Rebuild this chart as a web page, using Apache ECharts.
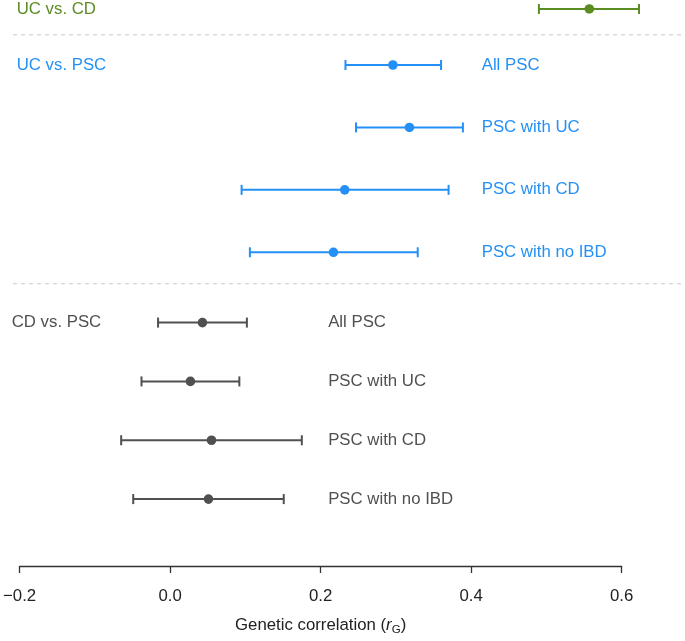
<!DOCTYPE html>
<html>
<head>
<meta charset="utf-8">
<script src="https://cdn.jsdelivr.net/npm/echarts@6/dist/echarts.min.js"></script>
<style>
html,body{margin:0;padding:0;background:#fff;}
#chart{width:685px;height:641px;}
</style>
</head>
<body>
<div id="chart"></div>
<script>
// ---- data ----
const groupNames = ['UC vs. CD', 'UC vs. PSC', 'CD vs. PSC'];
const subLabels = ['All PSC', 'PSC with UC', 'PSC with CD', 'PSC with no IBD'];

const ucCdEst  = [0.557];
const ucCdLow  = [0.490];
const ucCdHigh = [0.623];

const ucPscEst  = [0.296, 0.318, 0.232, 0.217];
const ucPscLow  = [0.233, 0.247, 0.095, 0.106];
const ucPscHigh = [0.360, 0.389, 0.370, 0.329];

const cdPscEst  = [0.043, 0.027, 0.055, 0.051];
const cdPscLow  = [-0.016, -0.038, -0.065, -0.049];
const cdPscHigh = [0.102, 0.092, 0.175, 0.151];

const xTicks = [-0.2, 0.0, 0.2, 0.4, 0.6];

// ---- layout / style ----
const colors = ['#5b8c22', '#2490f5', '#505050'];
const FONT = 'Liberation Sans, Arial, Helvetica, sans-serif';
const FS = 16.8;
const plotH = 568.5;               // y axis span (row units)
const rowStart = [9, 65.3, 324];   // first row of each group
const rowStep = [0, 62.7, 59.1];   // row spacing inside group
const groupLabelX = [16.7, 16.7, 11.7];
const subLabelAt = [null, 0.414, 0.210]; // x value where sub labels start
const dividers = [35, 285];

const groupsData = [
  {est: ucCdEst, low: ucCdLow, high: ucCdHigh, labels: [null]},
  {est: ucPscEst, low: ucPscLow, high: ucPscHigh, labels: subLabels},
  {est: cdPscEst, low: cdPscLow, high: cdPscHigh, labels: subLabels}
];

const chart = echarts.init(document.getElementById('chart'), null, {renderer: 'canvas'});

const series = groupsData.map((g, gi) => {
  const data = g.est.map((e, i) => [g.low[i], e, g.high[i], rowStart[gi] + i * rowStep[gi]]);
  return {
    type: 'custom',
    name: groupNames[gi],
    data: data,
    encode: {x: [0, 1, 2], y: 3},
    clip: false,
    renderItem: function (params, api) {
      const y = api.value(3);
      const lo = api.coord([api.value(0), y]);
      const es = api.coord([api.value(1), y]);
      const hi = api.coord([api.value(2), y]);
      const c = colors[gi];
      const cap = 5;
      const lineStyle = {stroke: c, lineWidth: 2};
      const children = [
        {type: 'line', shape: {x1: lo[0], y1: lo[1], x2: hi[0], y2: hi[1]}, style: lineStyle},
        {type: 'line', shape: {x1: lo[0], y1: lo[1] - cap, x2: lo[0], y2: lo[1] + cap}, style: lineStyle},
        {type: 'line', shape: {x1: hi[0], y1: hi[1] - cap, x2: hi[0], y2: hi[1] + cap}, style: lineStyle},
        {type: 'circle', shape: {cx: es[0], cy: es[1], r: 4.8}, style: {fill: c}}
      ];
      const lab = g.labels[params.dataIndex];
      if (lab && subLabelAt[gi] !== null) {
        const lp = api.coord([subLabelAt[gi], y]);
        children.push({type: 'text', style: {x: lp[0], y: lp[1], text: lab, fill: c,
          font: FS + 'px ' + FONT, align: 'left', verticalAlign: 'middle'}});
      }
      if (params.dataIndex === 0) {
        children.push({type: 'text', style: {x: groupLabelX[gi], y: es[1], text: groupNames[gi], fill: c,
          font: FS + 'px ' + FONT, align: 'left', verticalAlign: 'middle'}});
        if (gi > 0) {
          const dp = api.coord([0, dividers[gi - 1]]);
          children.push({type: 'line', shape: {x1: 13, y1: dp[1], x2: 685, y2: dp[1]},
            style: {stroke: '#c8c8c8', lineWidth: 1, lineDash: [4, 4]}});
        }
      }
      return {type: 'group', children: children};
    }
  };
});

chart.setOption({
  animation: false,
  backgroundColor: '#fff',
  grid: {left: 16, right: 63.3, top: 0, bottom: 641 - plotH},
  xAxis: {
    type: 'value',
    position: 'bottom',
    min: xTicks[0],
    max: xTicks[xTicks.length - 1],
    interval: 0.2,
    splitLine: {show: false},
    axisLine: {show: true, onZero: false, lineStyle: {color: '#333', width: 1.3}},
    axisTick: {show: true, length: 7, lineStyle: {color: '#333', width: 1.3}},
    axisLabel: {
      margin: 22,
      fontSize: FS,
      fontFamily: FONT,
      color: '#222',
      formatter: v => (v < 0 ? '\u2212' : '') + Math.abs(v).toFixed(1)
    },
    name: '{a|Genetic correlation (}{i|r}{s|G}{a|)}',
    nameLocation: 'middle',
    nameGap: 49,
    nameTextStyle: {
      rich: {
        a: {fontSize: FS, fontFamily: FONT, color: '#222', lineHeight: 20},
        i: {fontSize: FS, fontFamily: FONT, color: '#222', fontStyle: 'italic', lineHeight: 20},
        s: {fontSize: 11.5, fontFamily: FONT, color: '#222', lineHeight: 20, padding: [10, 0, 0, 0]}
      }
    }
  },
  yAxis: {
    type: 'value',
    min: 0,
    max: plotH,
    inverse: true,
    show: false
  },
  series: series
});
</script>
</body>
</html>
